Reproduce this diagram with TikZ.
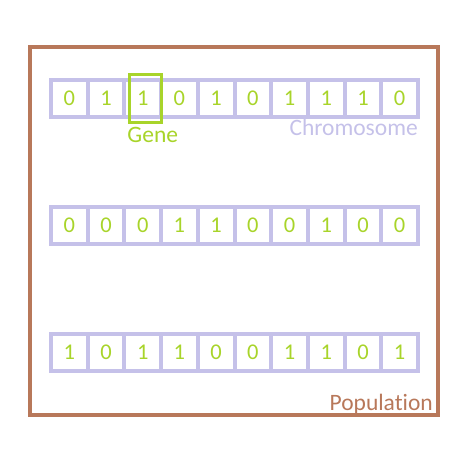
\documentclass[tikz,border=0pt]{standalone}
\usepackage{fontspec}
\setmainfont{Carlito}[Ligatures=NoCommon]
\usepackage{tikz}
\usetikzlibrary{positioning}
\definecolor{genegreen}{HTML}{A8D42A}
\definecolor{chromo}{HTML}{C5C1E9}
\definecolor{popbrown}{HTML}{B8785A}
\pgfmathsetmacro{\cellw}{36.7}
\pgfmathsetmacro{\cellh}{37}
\pgfmathsetmacro{\xo}{51}

\begin{document}
\begin{tikzpicture}[x=1pt, y=-1pt,
	cell/.style={draw=chromo, line width=4pt, minimum width=\cellw pt, minimum height=\cellh pt, inner sep=0pt, text=genegreen, font=\fontsize{22.5}{23}\selectfont},
	tag/.style={inner sep=0pt, font=\fontsize{23.5}{24}\selectfont}]
	\useasboundingbox (0,0) rectangle (474,462);
	\node[draw=popbrown, line width=4pt, minimum width=408pt, minimum height=368pt] (pop) at (234,231) {};
	\foreach \b [count=\i] in {0,1,1,0,1,0,1,1,1,0}
		\node[cell] (c1-\i) at ({\xo+\cellw*(\i-0.5)}, 98.5) {\b};
	\foreach \b [count=\i] in {0,0,0,1,1,0,0,1,0,0}
		\node[cell] (c2-\i) at ({\xo+\cellw*(\i-0.5)}, 225.5) {\b};
	\foreach \b [count=\i] in {1,0,1,1,0,0,1,1,0,1}
		\node[cell] (c3-\i) at ({\xo+\cellw*(\i-0.5)}, 352.5) {\b};
	\node[draw=genegreen, line width=3pt, minimum width=32pt, minimum height=48pt] (gene) at ([xshift=3pt]c1-3) {};
	\node[tag, text=genegreen, below=3pt of gene, xshift=7pt] (genetext) {Gene};
	\node[tag, text=chromo, anchor=base east] (chromotext) at ([xshift=-2pt, yshift=-17pt]c1-10.south east) {Chromosome};
	\node[tag, text=popbrown, anchor=base east] (poptext) at ([xshift=-7pt, yshift=7pt]pop.south east) {Population};
\end{tikzpicture}
\end{document}
